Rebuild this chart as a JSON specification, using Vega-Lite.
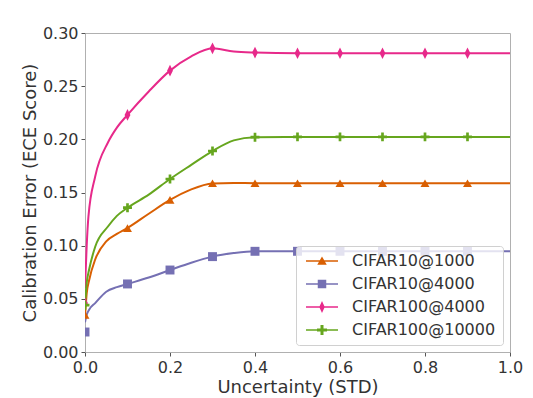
{
  "$schema": "https://vega.github.io/schema/vega-lite/v6.json",
  "width": 425,
  "height": 319,
  "autosize": "none",
  "padding": {"left": 85, "top": 33, "right": 23, "bottom": 46},
  "background": "white",
  "config": {
    "font": "DejaVu Sans",
    "view": {"stroke": "#b0b0b0", "strokeWidth": 1},
    "axis": {
      "grid": false,
      "domainColor": "#b0b0b0",
      "tickColor": "#555",
      "tickSize": 4,
      "labelFontSize": 16,
      "labelColor": "#333",
      "labelFlush": false,
      "titleFontSize": 18,
      "titleFontWeight": "normal",
      "titleColor": "#333",
      "labelPadding": 3
    }
  },
  "datasets": {
    "curves": [
      {"s": "CIFAR10@1000", "x": 0, "y": 0.033},
      {"s": "CIFAR10@1000", "x": 0.004, "y": 0.055},
      {"s": "CIFAR10@1000", "x": 0.01, "y": 0.068},
      {"s": "CIFAR10@1000", "x": 0.024, "y": 0.087},
      {"s": "CIFAR10@1000", "x": 0.05, "y": 0.104},
      {"s": "CIFAR10@1000", "x": 0.075, "y": 0.111},
      {"s": "CIFAR10@1000", "x": 0.1, "y": 0.1166},
      {"s": "CIFAR10@1000", "x": 0.15, "y": 0.130},
      {"s": "CIFAR10@1000", "x": 0.2, "y": 0.143},
      {"s": "CIFAR10@1000", "x": 0.25, "y": 0.153},
      {"s": "CIFAR10@1000", "x": 0.3, "y": 0.1585},
      {"s": "CIFAR10@1000", "x": 0.35, "y": 0.159},
      {"s": "CIFAR10@1000", "x": 0.4, "y": 0.1587},
      {"s": "CIFAR10@1000", "x": 0.5, "y": 0.1587},
      {"s": "CIFAR10@1000", "x": 0.6, "y": 0.1587},
      {"s": "CIFAR10@1000", "x": 0.7, "y": 0.1587},
      {"s": "CIFAR10@1000", "x": 0.8, "y": 0.1587},
      {"s": "CIFAR10@1000", "x": 0.9, "y": 0.1587},
      {"s": "CIFAR10@1000", "x": 1.0, "y": 0.1587},
      {"s": "CIFAR10@4000", "x": 0, "y": 0.028},
      {"s": "CIFAR10@4000", "x": 0.004, "y": 0.035},
      {"s": "CIFAR10@4000", "x": 0.01, "y": 0.040},
      {"s": "CIFAR10@4000", "x": 0.024, "y": 0.046},
      {"s": "CIFAR10@4000", "x": 0.05, "y": 0.0567},
      {"s": "CIFAR10@4000", "x": 0.075, "y": 0.061},
      {"s": "CIFAR10@4000", "x": 0.1, "y": 0.064},
      {"s": "CIFAR10@4000", "x": 0.15, "y": 0.070},
      {"s": "CIFAR10@4000", "x": 0.2, "y": 0.0771},
      {"s": "CIFAR10@4000", "x": 0.25, "y": 0.084},
      {"s": "CIFAR10@4000", "x": 0.3, "y": 0.0897},
      {"s": "CIFAR10@4000", "x": 0.35, "y": 0.093},
      {"s": "CIFAR10@4000", "x": 0.4, "y": 0.0947},
      {"s": "CIFAR10@4000", "x": 0.5, "y": 0.0947},
      {"s": "CIFAR10@4000", "x": 0.6, "y": 0.0947},
      {"s": "CIFAR10@4000", "x": 0.7, "y": 0.0947},
      {"s": "CIFAR10@4000", "x": 0.8, "y": 0.0947},
      {"s": "CIFAR10@4000", "x": 0.9, "y": 0.0947},
      {"s": "CIFAR10@4000", "x": 1.0, "y": 0.0947},
      {"s": "CIFAR100@4000", "x": 0, "y": 0.06},
      {"s": "CIFAR100@4000", "x": 0.004, "y": 0.10},
      {"s": "CIFAR100@4000", "x": 0.008, "y": 0.127},
      {"s": "CIFAR100@4000", "x": 0.024, "y": 0.165},
      {"s": "CIFAR100@4000", "x": 0.054, "y": 0.197},
      {"s": "CIFAR100@4000", "x": 0.075, "y": 0.211},
      {"s": "CIFAR100@4000", "x": 0.1, "y": 0.223},
      {"s": "CIFAR100@4000", "x": 0.15, "y": 0.245},
      {"s": "CIFAR100@4000", "x": 0.2, "y": 0.2646},
      {"s": "CIFAR100@4000", "x": 0.25, "y": 0.278},
      {"s": "CIFAR100@4000", "x": 0.3, "y": 0.2856},
      {"s": "CIFAR100@4000", "x": 0.35, "y": 0.2825},
      {"s": "CIFAR100@4000", "x": 0.4, "y": 0.2816},
      {"s": "CIFAR100@4000", "x": 0.5, "y": 0.281},
      {"s": "CIFAR100@4000", "x": 0.6, "y": 0.281},
      {"s": "CIFAR100@4000", "x": 0.7, "y": 0.281},
      {"s": "CIFAR100@4000", "x": 0.8, "y": 0.281},
      {"s": "CIFAR100@4000", "x": 0.9, "y": 0.281},
      {"s": "CIFAR100@4000", "x": 1.0, "y": 0.281},
      {"s": "CIFAR100@10000", "x": 0, "y": 0.045},
      {"s": "CIFAR100@10000", "x": 0.004, "y": 0.065},
      {"s": "CIFAR100@10000", "x": 0.01, "y": 0.078},
      {"s": "CIFAR100@10000", "x": 0.024, "y": 0.099},
      {"s": "CIFAR100@10000", "x": 0.054, "y": 0.118},
      {"s": "CIFAR100@10000", "x": 0.075, "y": 0.128},
      {"s": "CIFAR100@10000", "x": 0.1, "y": 0.1357},
      {"s": "CIFAR100@10000", "x": 0.15, "y": 0.148},
      {"s": "CIFAR100@10000", "x": 0.2, "y": 0.1627},
      {"s": "CIFAR100@10000", "x": 0.25, "y": 0.176},
      {"s": "CIFAR100@10000", "x": 0.3, "y": 0.189},
      {"s": "CIFAR100@10000", "x": 0.35, "y": 0.199},
      {"s": "CIFAR100@10000", "x": 0.4, "y": 0.202},
      {"s": "CIFAR100@10000", "x": 0.5, "y": 0.2023},
      {"s": "CIFAR100@10000", "x": 0.6, "y": 0.2023},
      {"s": "CIFAR100@10000", "x": 0.7, "y": 0.2023},
      {"s": "CIFAR100@10000", "x": 0.8, "y": 0.2023},
      {"s": "CIFAR100@10000", "x": 0.9, "y": 0.2023},
      {"s": "CIFAR100@10000", "x": 1.0, "y": 0.2023}
    ],
    "markers": [
      {"s": "CIFAR10@1000", "x": 0, "y": 0.035},
      {"s": "CIFAR10@1000", "x": 0.1, "y": 0.1166},
      {"s": "CIFAR10@1000", "x": 0.2, "y": 0.143},
      {"s": "CIFAR10@1000", "x": 0.3, "y": 0.1587},
      {"s": "CIFAR10@1000", "x": 0.4, "y": 0.1587},
      {"s": "CIFAR10@1000", "x": 0.5, "y": 0.1587},
      {"s": "CIFAR10@1000", "x": 0.6, "y": 0.1587},
      {"s": "CIFAR10@1000", "x": 0.7, "y": 0.1587},
      {"s": "CIFAR10@1000", "x": 0.8, "y": 0.1587},
      {"s": "CIFAR10@1000", "x": 0.9, "y": 0.1587},
      {"s": "CIFAR10@4000", "x": 0, "y": 0.0188},
      {"s": "CIFAR10@4000", "x": 0.1, "y": 0.064},
      {"s": "CIFAR10@4000", "x": 0.2, "y": 0.0771},
      {"s": "CIFAR10@4000", "x": 0.3, "y": 0.0897},
      {"s": "CIFAR10@4000", "x": 0.4, "y": 0.0947},
      {"s": "CIFAR10@4000", "x": 0.5, "y": 0.0947},
      {"s": "CIFAR10@4000", "x": 0.6, "y": 0.0947},
      {"s": "CIFAR10@4000", "x": 0.7, "y": 0.0947},
      {"s": "CIFAR10@4000", "x": 0.8, "y": 0.0947},
      {"s": "CIFAR10@4000", "x": 0.9, "y": 0.0947},
      {"s": "CIFAR100@4000", "x": 0, "y": 0.046},
      {"s": "CIFAR100@4000", "x": 0.1, "y": 0.223},
      {"s": "CIFAR100@4000", "x": 0.2, "y": 0.2646},
      {"s": "CIFAR100@4000", "x": 0.3, "y": 0.2856},
      {"s": "CIFAR100@4000", "x": 0.4, "y": 0.2816},
      {"s": "CIFAR100@4000", "x": 0.5, "y": 0.281},
      {"s": "CIFAR100@4000", "x": 0.6, "y": 0.281},
      {"s": "CIFAR100@4000", "x": 0.7, "y": 0.281},
      {"s": "CIFAR100@4000", "x": 0.8, "y": 0.281},
      {"s": "CIFAR100@4000", "x": 0.9, "y": 0.281},
      {"s": "CIFAR100@10000", "x": 0, "y": 0.044},
      {"s": "CIFAR100@10000", "x": 0.1, "y": 0.1357},
      {"s": "CIFAR100@10000", "x": 0.2, "y": 0.1627},
      {"s": "CIFAR100@10000", "x": 0.3, "y": 0.189},
      {"s": "CIFAR100@10000", "x": 0.4, "y": 0.202},
      {"s": "CIFAR100@10000", "x": 0.5, "y": 0.2023},
      {"s": "CIFAR100@10000", "x": 0.6, "y": 0.2023},
      {"s": "CIFAR100@10000", "x": 0.7, "y": 0.2023},
      {"s": "CIFAR100@10000", "x": 0.8, "y": 0.2023},
      {"s": "CIFAR100@10000", "x": 0.9, "y": 0.2023}
    ]
  },
  "encoding": {
    "x": {
      "field": "x", "type": "quantitative",
      "scale": {"domain": [0, 1], "nice": false, "zero": false},
      "axis": {"values": [0, 0.2, 0.4, 0.6, 0.8, 1.0], "format": ".1f", "title": "Uncertainty (STD)", "titlePadding": 3}
    },
    "y": {
      "field": "y", "type": "quantitative",
      "scale": {"domain": [0, 0.3], "nice": false},
      "axis": {"values": [0, 0.05, 0.1, 0.15, 0.2, 0.25, 0.3], "format": ".2f", "title": "Calibration Error (ECE Score)", "titlePadding": 3}
    }
  },
  "resolve": {
    "scale": {"color": "independent", "shape": "independent"},
    "legend": {"color": "independent", "shape": "independent"}
  },
  "layer": [
    {
      "data": {"name": "curves"},
      "mark": {"type": "line", "interpolate": "monotone", "strokeWidth": 2, "clip": true},
      "encoding": {
        "stroke": {
          "field": "s", "type": "nominal",
          "scale": {
            "domain": ["CIFAR100@10000", "CIFAR100@4000", "CIFAR10@4000", "CIFAR10@1000"],
            "range": ["#66a61e", "#e7298a", "#7570b3", "#d95f02"]
          },
          "legend": null
        }
      }
    },
    {
      "data": {"name": "markers"},
      "mark": {"type": "point", "filled": true, "opacity": 1, "size": 80, "clip": true},
      "encoding": {
        "shape": {
          "field": "s", "type": "nominal",
          "scale": {
            "domain": ["CIFAR10@1000", "CIFAR10@4000", "CIFAR100@4000", "CIFAR100@10000"],
            "range": ["triangle-up", "square", "M0,-1.3L0.65,0L0,1.3L-0.65,0Z", "M-0.3,-1H0.3V-0.3H1V0.3H0.3V1H-0.3V0.3H-1V-0.3H-0.3Z"]
          },
          "legend": null
        },
        "color": {
          "field": "s", "type": "nominal",
          "scale": {
            "domain": ["CIFAR10@1000", "CIFAR10@4000", "CIFAR100@4000", "CIFAR100@10000"],
            "range": ["#d95f02", "#7570b3", "#e7298a", "#66a61e"]
          },
          "legend": null
        }
      }
    },
    {
      "data": {"name": "markers"},
      "transform": [{"filter": "false"}],
      "mark": {"type": "point", "filled": true, "opacity": 1, "size": 100},
      "encoding": {
        "shape": {
          "field": "s", "type": "nominal",
          "scale": {
            "domain": ["CIFAR10@1000", "CIFAR10@4000", "CIFAR100@4000", "CIFAR100@10000"],
            "range": [
              "M-3.2,-0.15H3.2V0.15H-3.2Z M0,-0.9L0.95,0.75L-0.95,0.75Z",
              "M-3.2,-0.15H3.2V0.15H-3.2Z M-0.85,-0.85H0.85V0.85H-0.85Z",
              "M-3.2,-0.15H3.2V0.15H-3.2Z M0,-1.2L0.55,0L0,1.2L-0.55,0Z",
              "M-3.2,-0.15H3.2V0.15H-3.2Z M-0.3,-1H0.3V-0.3H1V0.3H0.3V1H-0.3V0.3H-1V-0.3H-0.3Z"
            ]
          },
          "legend": {
            "title": null,
            "orient": "bottom-right",
            "offset": 7,
            "padding": 7,
            "labelFontSize": 16,
            "labelColor": "#333",
            "symbolSize": 100,
            "symbolOpacity": 1,
            "rowPadding": 7,
            "labelOffset": 22,
            "symbolOffset": 11,
            "symbolStrokeWidth": 0,
            "strokeColor": "#d0d0d0",
            "fillColor": "rgba(255,255,255,0.8)",
            "cornerRadius": 3
          }
        },
        "color": {
          "field": "s", "type": "nominal",
          "scale": {
            "domain": ["CIFAR10@1000", "CIFAR10@4000", "CIFAR100@4000", "CIFAR100@10000"],
            "range": ["#d95f02", "#7570b3", "#e7298a", "#66a61e"]
          },
          "legend": {
            "title": null,
            "orient": "bottom-right",
            "offset": 7,
            "padding": 7,
            "labelFontSize": 16,
            "labelColor": "#333",
            "symbolSize": 100,
            "symbolOpacity": 1,
            "rowPadding": 7,
            "labelOffset": 22,
            "symbolOffset": 11,
            "symbolStrokeWidth": 0,
            "strokeColor": "#d0d0d0",
            "fillColor": "rgba(255,255,255,0.8)",
            "cornerRadius": 3
          }
        }
      }
    }
  ]
}
